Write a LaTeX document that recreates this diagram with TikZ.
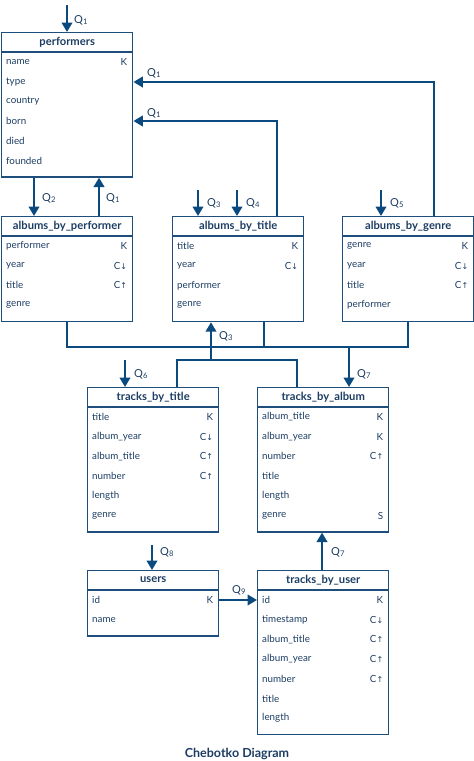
\documentclass[tikz,border=0pt]{standalone}
\usepackage{fontspec}
\setmainfont{Lato}
\newfontfamily\symf{DejaVu Sans}
\usetikzlibrary{arrows.meta}
\definecolor{cline}{HTML}{0B4A7E}
\definecolor{ctext}{HTML}{1C3D63}
\definecolor{cbox}{HTML}{1E4E7C}
\tikzset{
 tbox/.style={draw=cbox, line width=1.4pt, minimum width=131pt, inner sep=0pt, anchor=north west},
 thead/.style={font=\bfseries\fontsize{11.2}{13}\selectfont, text=ctext, inner sep=0pt},
 fieldtxt/.style={font=\fontsize{9.8}{11}\selectfont, text=ctext, inner sep=0pt, anchor=west},
 keytxt/.style={font=\fontsize{9.8}{11}\selectfont, text=ctext, inner sep=0pt, anchor=east},
 conn/.style={draw=cline, line width=2.6pt},
 arr/.style={conn, -{Triangle[length=9.5pt,width=10.5pt]}},
 qlab/.style={font=\fontsize{11}{13}\selectfont, text=ctext, inner sep=0pt, anchor=west},
 ttl/.style={font=\bfseries\fontsize{12.5}{14}\selectfont, text=ctext, inner sep=0pt},
}
\newcommand{\dn}{C{\symf\fontsize{8}{10}\selectfont ↓}}
\newcommand{\up}{C{\symf\fontsize{8}{10}\selectfont ↑}}
\newcommand{\dbtable}[6]{%
 \node[tbox, minimum height={26pt+#4*19.7pt}] (#1) at (#2,#3) {};
 \node[thead] (#1-title) at ([yshift=-10pt]#1.north) {#5};
 \draw[draw=cbox, line width=1.4pt] ([yshift=-20pt]#1.north west) -- ([yshift=-20pt]#1.north east);
 \foreach \f/\k [count=\i] in {#6} {
   \node[fieldtxt] (#1-f\i) at ([xshift=5pt,yshift={-30pt-(\i-1)*19.7pt}]#1.north west) {\f};
   \node[keytxt] (#1-k\i) at ([xshift=-6pt,yshift={-30pt-(\i-1)*19.7pt}]#1.north east) {\k};
 }
}
\begin{document}
\begin{tikzpicture}[x=1pt,y=-1pt]
\useasboundingbox (0,0) rectangle (474,761);
\dbtable{performers}{1}{32}{6}{performers}{name/K, type/{}, country/{}, born/{}, died/{}, founded/{}}
\dbtable{abp}{1}{216}{4}{albums\_by\_performer}{performer/K, year/\dn, title/\up, genre/{}}
\dbtable{abt}{172}{216}{4}{albums\_by\_title}{title/K, year/\dn, performer/{}, genre/{}}
\dbtable{abg}{342}{216}{4}{albums\_by\_genre}{genre/K, year/\dn, title/\up, performer/{}}
\dbtable{tbt}{87}{387}{6}{tracks\_by\_title}{title/K, album\_year/\dn, album\_title/\up, number/\up, length/{}, genre/{}}
\dbtable{tba}{257}{387}{6}{tracks\_by\_album}{album\_title/K, album\_year/K, number/\up, title/{}, length/{}, genre/S}
\dbtable{users}{87}{570}{2}{users}{id/K, name/{}}
\dbtable{tbu}{257}{570}{7}{tracks\_by\_user}{id/K, timestamp/\dn, album\_title/\up, album\_year/\up, number/\up, title/{}, length/{}}

% Q1 into performers
\coordinate (q1s) at (67,5);
\draw[arr] (q1s) -- (q1s |- performers.north);
\node[qlab] (l1) at (74,20) {Q\textsubscript{1}};
% genre -> performers
\coordinate (g1) at (434,82);
\draw[arr] (abg.north -| g1) -- (g1) -- (performers.east |- g1);
\node[qlab] (l2) at (147,73) {Q\textsubscript{1}};
% title -> performers
\coordinate (t1) at (277,121);
\draw[arr] (abt.north -| t1) -- (t1) -- (performers.east |- t1);
\node[qlab] (l3) at (147,113) {Q\textsubscript{1}};
% Q2 and Q1 between performers and abp
\coordinate (x2) at (34,0);
\draw[arr] (performers.south -| x2) -- (abp.north -| x2);
\node[qlab] (l4) at (42,198) {Q\textsubscript{2}};
\coordinate (x1u) at (99,0);
\draw[arr] (abp.north -| x1u) -- (performers.south -| x1u);
\node[qlab] (l5) at (106,198) {Q\textsubscript{1}};
% Q3, Q4, Q5
\coordinate (q3s) at (198,190);
\draw[arr] (q3s) -- (abt.north -| q3s);
\node[qlab] (l6) at (207,203) {Q\textsubscript{3}};
\coordinate (q4s) at (237,190);
\draw[arr] (q4s) -- (abt.north -| q4s);
\node[qlab] (l7) at (246,203) {Q\textsubscript{4}};
\coordinate (q5s) at (381,190);
\draw[arr] (q5s) -- (abg.north -| q5s);
\node[qlab] (l8) at (390,203) {Q\textsubscript{5}};
% upper bus
\coordinate (b1) at (67,347);
\coordinate (b2) at (264,347);
\coordinate (b3) at (408,347);
\coordinate (b4) at (349,347);
\draw[conn] (abp.south -| b1) -- (b1) -- (b3) -- (abg.south -| b3);
\draw[conn] (abt.south -| b2) -- (b2);
\draw[arr] (b4) -- (tba.north -| b4);
\node[qlab] (l9) at (357,374) {Q\textsubscript{7}};
% lower bus
\coordinate (c1) at (177,360);
\coordinate (c2) at (297,360);
\coordinate (c3) at (211,360);
\draw[conn] (tbt.north -| c1) -- (c1) -- (c2) -- (tba.north -| c2);
\draw[arr] (c3) -- (abt.south -| c3);
\node[qlab] (l10) at (219,336) {Q\textsubscript{3}};
% Q6
\coordinate (q6s) at (125,360);
\draw[arr] (q6s) -- (tbt.north -| q6s);
\node[qlab] (l11) at (134,374) {Q\textsubscript{6}};
% Q7 lower
\coordinate (x7) at (322,0);
\draw[arr] (tbu.north -| x7) -- (tba.south -| x7);
\node[qlab] (l12) at (331,552) {Q\textsubscript{7}};
% Q8
\coordinate (q8s) at (152,545);
\draw[arr] (q8s) -- (users.north -| q8s);
\node[qlab] (l13) at (160,552) {Q\textsubscript{8}};
% Q9
\coordinate (y9) at (0,600);
\draw[arr] (users.east |- y9) -- (tbu.west |- y9);
\node[qlab] (l14) at (232,590) {Q\textsubscript{9}};
% title
\node[ttl] (title) at (237,754) {Chebotko Diagram};
\end{tikzpicture}
\end{document}
